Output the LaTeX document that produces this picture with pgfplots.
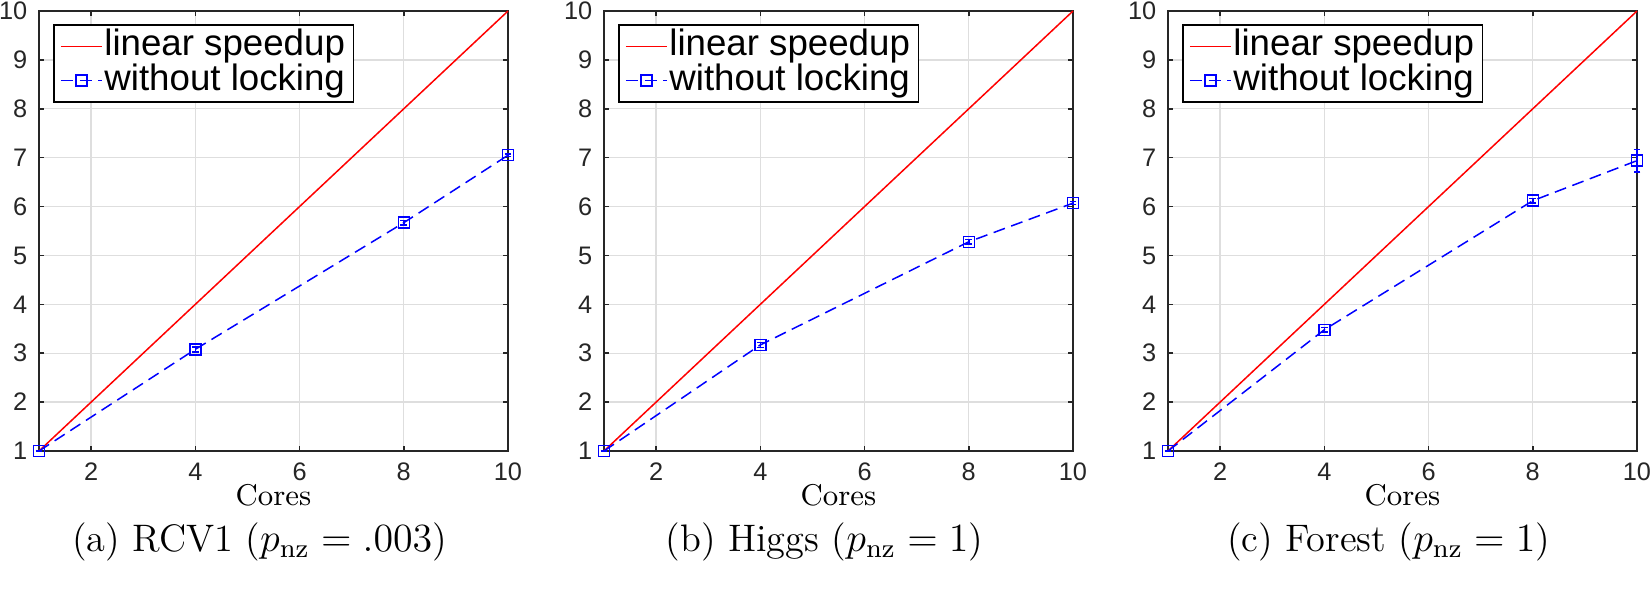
\documentclass[border=0pt]{standalone}
\usepackage{fontspec}
\usepackage{pgfplots}
\pgfplotsset{compat=1.18}
\newfontfamily\arial{Liberation Sans}
\definecolor{axgray}{HTML}{262626}
\definecolor{gridgray}{HTML}{DEDEDE}

\tikzset{capt/.style={font=\fontsize{11.5}{12}\selectfont, xshift=-4.2pt, yshift=-27.3pt}}

\pgfplotsset{
  speedup/.style={
    scale only axis, width=140.7pt, height=132pt,
    anchor=south west,
    xmin=1, xmax=10, ymin=1, ymax=10,
    xtick={2,4,6,8,10}, ytick={1,2,...,10},
    grid=major, major grid style={gridgray, line width=0.4pt},
    axis line style={axgray, line width=0.45pt},
    every tick/.style={axgray, line width=0.45pt},
    major tick length=1.5pt,
    tick pos=both,
    /pgf/number format/assume math mode=true,
    ticklabel style={font=\arial\fontsize{7.6}{8}\selectfont, text=axgray},
    xlabel={Cores},
    xlabel style={font=\fontsize{9}{10}\selectfont, anchor=center, at={(axis description cs:0.5,-0.1)}},
    clip=false,
    legend style={at={(0.03,0.9705)}, anchor=north west, draw=black, line width=0.45pt,
      font=\arial\fontsize{11}{11}\selectfont, inner xsep=1.9pt, inner ysep=1.3pt,
      row sep=0pt, column sep=0pt,
      nodes={inner xsep=0.6pt, inner ysep=0pt, text height=8pt, text depth=2.3pt}},
    legend cell align=left,
    legend image code/.code={\draw[mark repeat=2,mark phase=2,##1] plot coordinates {(0cm,0cm) (0.215cm,0cm) (0.43cm,0cm)};},
  },
  linsp/.style={red, line width=0.45pt, no marks},
  nolock/.style={blue, line width=0.45pt, dash pattern=on 3.6pt off 2pt,
    mark=square, mark size=1.65pt, mark options={solid, fill=none},
    error bars/.cd, y dir=both, y explicit,
    error bar style={solid, line width=0.45pt},
    error mark options={rotate=90, mark size=1pt, solid, line width=0.45pt}},
}

\begin{document}
\begin{tikzpicture}

% (a) RCV1
\begin{axis}[speedup, at={(11.7pt,43.8pt)}]
\addplot[linsp] coordinates {(1,1) (10,10)};
\addlegendentry{linear speedup}
\addplot[nolock] coordinates {
  (1,1.00) +- (0,0.01)
  (4,3.08) +- (0,0.05)
  (8,5.67) +- (0,0.05)
  (10,7.05) +- (0,0.03)
};
\addlegendentry{without locking}
\node[capt] at (rel axis cs:0.5,0) {(a) RCV1 ($p_{\mathrm{nz}} = .003$)};
\end{axis}

% (b) Higgs
\begin{axis}[speedup, at={(181.2pt,43.8pt)}]
\addplot[linsp] coordinates {(1,1) (10,10)};
\addlegendentry{linear speedup}
\addplot[nolock] coordinates {
  (1,1.00) +- (0,0.01)
  (4,3.17) +- (0,0.05)
  (8,5.28) +- (0,0.05)
  (10,6.07) +- (0,0.03)
};
\addlegendentry{without locking}
\node[capt] at (rel axis cs:0.5,0) {(b) Higgs ($p_{\mathrm{nz}} = 1$)};
\end{axis}

% (c) Forest
\begin{axis}[speedup, at={(350.4pt,43.8pt)}]
\addplot[linsp] coordinates {(1,1) (10,10)};
\addlegendentry{linear speedup}
\addplot[nolock] coordinates {
  (1,1.00) +- (0,0.01)
  (4,3.48) +- (0,0.05)
  (8,6.12) +- (0,0.05)
  (10,6.94) +- (0,0.23)
};
\addlegendentry{without locking}
\node[capt] at (rel axis cs:0.5,0) {(c) Forest ($p_{\mathrm{nz}} = 1$)};
\end{axis}

\pgfresetboundingbox
\useasboundingbox (0,0) rectangle (495pt,179.1pt);
\end{tikzpicture}
\end{document}
